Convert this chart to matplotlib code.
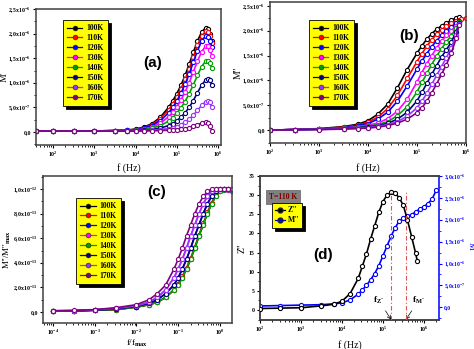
import numpy as np
import matplotlib
matplotlib.use('Agg')
import matplotlib.pyplot as plt
from matplotlib.lines import Line2D
from matplotlib.ticker import AutoMinorLocator

plt.rcParams['font.family'] = ['Liberation Serif', 'DejaVu Serif']
plt.rcParams['font.weight'] = 'bold'
plt.rcParams['mathtext.fontset'] = 'custom'
plt.rcParams['mathtext.rm'] = 'Liberation Serif:bold'
plt.rcParams['mathtext.bf'] = 'Liberation Serif:bold'
plt.rcParams['mathtext.it'] = 'Liberation Serif:italic:bold'
plt.rcParams['mathtext.default'] = 'bf'

# ---- data ----
temps = ['100K', '110K', '120K', '130K', '140K', '150K', '160K', '170K']
colors = ['black', 'red', 'blue', 'magenta', '#00A000', '#000080', '#9933FF', '#800080']

# (a) M' vs f, values in 1e-6
logf_a = [1.6, 2.0, 2.5, 3.0, 3.5, 3.8, 4.0, 4.2, 4.4, 4.6, 4.8, 4.9, 5.0, 5.1, 5.2, 5.3, 5.4, 5.5, 5.6, 5.7, 5.75, 5.8, 5.85]
mp_a = [
    [0.02, 0.02, 0.02, 0.02, 0.03, 0.04, 0.06, 0.10, 0.17, 0.30, 0.50, 0.63, 0.78, 0.95, 1.15, 1.38, 1.62, 1.85, 2.03, 2.12, 2.10, 2.00, 1.85],
    [0.02, 0.02, 0.02, 0.02, 0.03, 0.04, 0.05, 0.09, 0.15, 0.27, 0.45, 0.57, 0.71, 0.88, 1.07, 1.29, 1.53, 1.76, 1.95, 2.05, 2.03, 1.95, 1.80],
    [0.02, 0.02, 0.02, 0.02, 0.03, 0.035, 0.05, 0.08, 0.13, 0.23, 0.39, 0.50, 0.63, 0.79, 0.97, 1.18, 1.42, 1.65, 1.85, 1.95, 1.93, 1.85, 1.72],
    [0.02, 0.02, 0.02, 0.02, 0.025, 0.03, 0.04, 0.06, 0.10, 0.18, 0.31, 0.40, 0.51, 0.65, 0.81, 1.00, 1.22, 1.44, 1.63, 1.75, 1.74, 1.67, 1.55],
    [0.02, 0.02, 0.02, 0.02, 0.02, 0.03, 0.035, 0.05, 0.08, 0.13, 0.22, 0.29, 0.38, 0.49, 0.62, 0.78, 0.96, 1.15, 1.33, 1.44, 1.45, 1.40, 1.30],
    [0.02, 0.02, 0.02, 0.02, 0.02, 0.025, 0.03, 0.04, 0.05, 0.08, 0.13, 0.17, 0.23, 0.30, 0.39, 0.50, 0.64, 0.80, 0.95, 1.06, 1.08, 1.05, 0.95],
    [0.02, 0.02, 0.02, 0.02, 0.02, 0.02, 0.025, 0.03, 0.04, 0.05, 0.07, 0.09, 0.11, 0.15, 0.20, 0.26, 0.34, 0.44, 0.54, 0.62, 0.63, 0.60, 0.50],
    [0.02, 0.02, 0.02, 0.02, 0.02, 0.02, 0.02, 0.02, 0.025, 0.03, 0.035, 0.04, 0.05, 0.06, 0.07, 0.09, 0.12, 0.15, 0.18, 0.20, 0.18, 0.12, 0.03],
]

# (b) M'' vs f, values in 1e-6
logf_b = [2.0, 2.5, 3.0, 3.5, 3.8, 4.0, 4.2, 4.4, 4.6, 4.8, 5.0, 5.1, 5.2, 5.3, 5.4, 5.5, 5.6, 5.7, 5.8, 5.85, 5.9, 6.0]
nan = np.nan
mpp_b = [
    [0.0, 0.01, 0.03, 0.07, 0.12, 0.19, 0.32, 0.52, 0.85, 1.22, 1.55, 1.70, 1.83, 1.94, 2.03, 2.10, 2.16, 2.21, 2.26, 2.28, nan, nan],
    [0.0, 0.01, 0.025, 0.06, 0.10, 0.16, 0.26, 0.43, 0.70, 1.04, 1.38, 1.54, 1.69, 1.82, 1.93, 2.02, 2.09, 2.15, 2.20, 2.22, 2.24, 2.26],
    [0.0, 0.01, 0.02, 0.05, 0.09, 0.13, 0.22, 0.36, 0.58, 0.89, 1.23, 1.39, 1.54, 1.68, 1.80, 1.91, 2.00, 2.08, 2.15, 2.19, nan, nan],
    [0.0, 0.01, 0.02, 0.04, 0.07, 0.10, 0.14, 0.23, 0.38, 0.62, 0.97, 1.16, 1.34, 1.50, 1.65, 1.79, 1.91, 2.00, 2.10, 2.18, nan, nan],
    [0.0, 0.01, 0.015, 0.035, 0.06, 0.075, 0.11, 0.17, 0.29, 0.47, 0.77, 0.96, 1.14, 1.32, 1.49, 1.64, 1.78, 1.90, 2.05, 2.17, nan, nan],
    [0.0, 0.01, 0.015, 0.03, 0.05, 0.065, 0.09, 0.135, 0.22, 0.36, 0.59, 0.76, 0.94, 1.12, 1.30, 1.47, 1.62, 1.77, 1.98, 2.15, nan, nan],
    [0.0, 0.01, 0.012, 0.025, 0.04, 0.05, 0.075, 0.11, 0.17, 0.28, 0.45, 0.58, 0.74, 0.92, 1.10, 1.28, 1.46, 1.65, 1.92, 2.13, nan, nan],
    [0.0, 0.01, 0.01, 0.02, 0.03, 0.04, 0.06, 0.09, 0.14, 0.22, 0.35, 0.45, 0.58, 0.75, 0.93, 1.12, 1.32, 1.55, 1.85, 2.12, nan, nan],
]

# (c) M''/M''max vs f/fmax, values in 1e-12
logf_c = [-4.0, -3.5, -3.0, -2.5, -2.0, -1.7, -1.5, -1.3, -1.1, -1.0, -0.9, -0.8, -0.7, -0.6, -0.5, -0.4, -0.3, -0.2, -0.1, 0.0, 0.1, 0.2, 0.3]
mn_c = [
    [0.01, 0.01, 0.015, 0.02, 0.04, 0.06, 0.08, 0.12, 0.18, 0.22, 0.28, 0.35, 0.43, 0.52, 0.62, 0.71, 0.80, 0.88, 0.94, 0.98, 1.0, 1.0, 0.99],
    [0.01, 0.01, 0.015, 0.02, 0.04, 0.06, 0.08, 0.12, 0.18, 0.23, 0.29, 0.36, 0.44, 0.53, 0.63, 0.72, 0.81, 0.89, 0.95, 0.99, 1.0, 0.99, 0.98],
    [0.01, 0.01, 0.015, 0.025, 0.045, 0.07, 0.10, 0.15, 0.22, 0.28, 0.35, 0.43, 0.52, 0.62, 0.71, 0.80, 0.88, 0.94, 0.98, 1.0, 1.0, 0.99, 0.99],
    [0.01, 0.012, 0.018, 0.03, 0.05, 0.08, 0.12, 0.18, 0.28, 0.35, 0.43, 0.52, 0.62, 0.71, 0.80, 0.88, 0.94, 0.98, 1.0, 1.0, 1.0, 0.99, 0.99],
    [0.01, 0.01, 0.015, 0.02, 0.04, 0.06, 0.08, 0.12, 0.18, 0.22, 0.28, 0.35, 0.43, 0.52, 0.62, 0.71, 0.80, 0.88, 0.94, 0.98, 0.99, 1.0, 0.98],
    [0.01, 0.01, 0.015, 0.025, 0.045, 0.07, 0.10, 0.15, 0.22, 0.28, 0.35, 0.43, 0.52, 0.62, 0.71, 0.80, 0.88, 0.94, 0.98, 1.0, 1.0, 1.0, 0.99],
    [0.01, 0.012, 0.018, 0.03, 0.05, 0.08, 0.12, 0.18, 0.28, 0.35, 0.43, 0.52, 0.62, 0.71, 0.80, 0.88, 0.94, 0.98, 1.0, 1.0, 1.0, 1.0, 0.99],
    [0.01, 0.013, 0.02, 0.035, 0.06, 0.10, 0.15, 0.22, 0.35, 0.43, 0.52, 0.62, 0.71, 0.80, 0.88, 0.94, 0.98, 1.0, 1.0, 1.0, 1.0, 1.0, 1.0],
]

# (d) T = 110 K: Z'' (left axis) and M'' (right axis, 1e-6)
logf_z = [2.0, 2.5, 3.0, 3.5, 3.8, 4.0, 4.2, 4.4, 4.5, 4.6, 4.7, 4.8, 4.9, 5.0, 5.1, 5.2, 5.3, 5.4, 5.5, 5.6, 5.7, 5.8, 5.84]
z_dd = [0.4, 0.5, 0.6, 1.1, 1.5, 2.3, 4.3, 8.3, 11.5, 14.7, 18.5, 22.0, 25.5, 28.3, 30.0, 30.7, 30.5, 29.3, 27.3, 23.5, 19.2, 14.8, 12.8]
logf_m = [2.0, 2.5, 3.0, 3.5, 3.8, 4.0, 4.2, 4.4, 4.5, 4.6, 4.7, 4.8, 4.9, 5.0, 5.1, 5.2, 5.3, 5.4, 5.5, 5.6, 5.7, 5.8, 5.9, 6.0, 6.1, 6.2, 6.3]
m_dd = [0.03, 0.04, 0.05, 0.06, 0.08, 0.10, 0.17, 0.30, 0.40, 0.50, 0.63, 0.77, 0.95, 1.17, 1.40, 1.62, 1.82, 1.97, 2.04, 2.08, 2.12, 2.18, 2.25, 2.30, 2.37, 2.47, 2.67]
logf_m_peak = 5.56

fig = plt.figure(figsize=(4.74, 3.49), dpi=100)

tick_fs = 4.2
lab_fs = 7
MS = 3.0


def style(ax):
    for s in ax.spines.values():
        s.set_linewidth(1.1)
        s.set_color('#404040')
    ax.tick_params(which='major', direction='out', length=2.5, width=0.8, labelsize=tick_fs, pad=1.2)
    ax.tick_params(which='minor', direction='out', length=1.3, width=0.6)
    ax.tick_params(top=False, right=False, which='both')
    ax.yaxis.set_minor_locator(AutoMinorLocator(2))


def family(ax, logf, rows, scale):
    x = 10 ** np.array(logf)
    for lab, col, y in zip(temps, colors, rows):
        ax.plot(x, np.array(y, dtype=float) * scale, '-o', color=col, lw=1.2,
                mfc='white', mec=col, ms=MS, mew=0.8, label=lab)


def temp_legend(ax, anchor):
    handles = [Line2D([], [], color=c, marker='o', ms=3.5, mfc=c, mec='#222222', mew=0.4, lw=0.9)
               for c in colors]
    leg = ax.legend(handles, temps, loc='upper left', bbox_to_anchor=anchor, borderaxespad=0,
                    fontsize=5.5, labelspacing=0.25, handlelength=2.0, handletextpad=0.5,
                    borderpad=0.55, fancybox=False, facecolor='#FFFF00', edgecolor='black',
                    framealpha=1, shadow={'color': 'black', 'alpha': 1})
    leg.get_frame().set_linewidth(0.6)
    return leg


def sci_labels(vals, exps):
    out = []
    for v, e in zip(vals, exps):
        if v == 0:
            out.append('0,0')
        else:
            out.append(('%.1f' % v).replace('.', ',') + 'x10$^{%d}$' % e)
    return out


# ---- (a) ----
ax = fig.add_axes([36 / 474, 1 - 145 / 349, 185 / 474, 136 / 349])
family(ax, logf_a, mp_a, 1e-6)
ax.set_xscale('log')
ax.set_xlim(10 ** 1.59, 10 ** 6.07)
ax.set_ylim(-0.264e-6, 2.5e-6)
ax.set_xticks([1e2, 1e3, 1e4, 1e5, 1e6], ['10$^{2}$', '10$^{3}$', '10$^{4}$', '10$^{5}$', '10$^{6}$'])
yt = [0, 0.5, 1.0, 1.5, 2.0, 2.5]
ax.set_yticks(np.array(yt) * 1e-6, sci_labels([0, 5.0, 1.0, 1.5, 2.0, 2.5], [0, -7, -6, -6, -6, -6]))
ax.set_xlabel('f (Hz)', fontsize=lab_fs)
ax.set_ylabel("M'", fontsize=lab_fs)
ax.xaxis.set_label_coords(0.5, -0.132)
ax.yaxis.set_label_coords(-0.15, 0.5)
style(ax)
temp_legend(ax, (0.146, 0.919))
ax.text(0.63, 0.6, '(a)', transform=ax.transAxes, fontsize=11, fontweight='bold',
        family='Liberation Sans', ha='center', va='center')

# ---- (b) ----
ax = fig.add_axes([270 / 474, 1 - 143 / 349, 196 / 474, 141 / 349])
family(ax, logf_b, mpp_b, 1e-6)
ax.set_xscale('log')
ax.set_xlim(1e2, 1e6)
ax.set_ylim(-0.26e-6, 2.58e-6)
ax.set_xticks([1e2, 1e3, 1e4, 1e5, 1e6], ['10$^{2}$', '10$^{3}$', '10$^{4}$', '10$^{5}$', '10$^{6}$'])
ax.set_yticks(np.array(yt) * 1e-6, sci_labels([0, 5.0, 1.0, 1.5, 2.0, 2.5], [0, -7, -6, -6, -6, -6]))
ax.set_xlabel('f (Hz)', fontsize=lab_fs)
ax.set_ylabel("M''", fontsize=lab_fs)
ax.xaxis.set_label_coords(0.5, -0.142)
ax.yaxis.set_label_coords(-0.14, 0.5)
style(ax)
temp_legend(ax, (0.199, 0.872))
ax.text(0.71, 0.76, '(b)', transform=ax.transAxes, fontsize=11, fontweight='bold',
        family='Liberation Sans', ha='center', va='center')

# ---- (c) ----
ax = fig.add_axes([43 / 474, 1 - 323 / 349, 189 / 474, 147 / 349])
family(ax, logf_c, mn_c, 1e-12)
ax.set_xscale('log')
ax.set_xlim(10 ** -4.24, 10 ** 0.29)
ax.set_ylim(-0.089e-12, 1.106e-12)
ax.set_xticks([1e-4, 1e-3, 1e-2, 1e-1, 1e0], ['10$^{-4}$', '10$^{-3}$', '10$^{-2}$', '10$^{-1}$', '10$^{0}$'])
ax.set_yticks(np.array([0, 0.2, 0.4, 0.6, 0.8, 1.0]) * 1e-12,
              sci_labels([0, 2.0, 4.0, 6.0, 8.0, 1.0], [0, -13, -13, -13, -13, -12]))
ax.set_xlabel('f/f$_{max}$', fontsize=6.5)
ax.set_ylabel("M''/M''$_{max}$", fontsize=6.5)
ax.xaxis.set_label_coords(0.5, -0.098)
ax.yaxis.set_label_coords(-0.16, 0.5)
style(ax)
temp_legend(ax, (0.175, 0.85))
ax.text(0.6, 0.89, '(c)', transform=ax.transAxes, fontsize=11, fontweight='bold',
        family='Liberation Sans', ha='center', va='center')

# ---- (d) ----
ax = fig.add_axes([260 / 474, 1 - 320 / 349, 179 / 474, 144 / 349])
ax2 = ax.twinx()
fz = 10 ** np.array(logf_z)
fm = 10 ** np.array(logf_m)
ax.plot(fz, z_dd, '-o', color='black', lw=1.2, mfc='white', mec='black', ms=MS, mew=0.8, zorder=3)
ax2.plot(fm, np.array(m_dd) * 1e-6, '-o', color='blue', lw=1.2, mfc='white', mec='blue', ms=MS, mew=0.8)
ax.set_zorder(ax2.get_zorder() + 1)
ax.patch.set_visible(False)
ax.set_xscale('log')
ax.set_xlim(1e2, 10 ** 6.37)
ax.set_ylim(-2.6, 35)
ax2.set_ylim(-0.29e-6, 3.0e-6)
ax.set_xticks([1e2, 1e3, 1e4, 1e5, 1e6], ['10$^{2}$', '10$^{3}$', '10$^{4}$', '10$^{5}$', '10$^{6}$'])
ax.set_yticks([0, 5, 10, 15, 20, 25, 30, 35])
ax2.set_yticks(np.array([0, 0.5, 1.0, 1.5, 2.0, 2.5, 3.0]) * 1e-6,
               sci_labels([0, 5.0, 1.0, 1.5, 2.0, 2.5, 3.0], [0, -7, -6, -6, -6, -6, -6]))
ax.set_xlabel('f (Hz)', fontsize=lab_fs)
ax.set_ylabel("Z''", fontsize=lab_fs)
ax2.set_ylabel("M''", fontsize=6.5, color='blue', rotation=270, va='center')
ax.xaxis.set_label_coords(0.5, -0.139)
ax.yaxis.set_label_coords(-0.075, 0.5)
ax2.yaxis.set_label_coords(1.175, 0.5)
style(ax)
ax2.tick_params(which='major', direction='out', length=2.5, width=0.8, labelsize=4.0,
                colors='blue', pad=1.0)
ax2.tick_params(which='minor', direction='out', length=1.3, width=0.6, colors='blue')
ax2.yaxis.set_minor_locator(AutoMinorLocator(2))
for s in ax2.spines.values():
    s.set_linewidth(1.1)
    s.set_color('#404040')
ax2.spines['right'].set_color('blue')
ax.spines['right'].set_visible(False)

f_z_peak = fz[int(np.argmax(z_dd))]
f_m_peak = 10 ** logf_m_peak
zmax = max(z_dd)
ax.vlines([f_z_peak, f_m_peak], -2.6, zmax + 0.3, colors='#E05050', linestyles=(0, (4, 2, 1, 2)), lw=0.8, zorder=4)
ax.annotate("f$_{Z''}$", xy=(f_z_peak, -2.5), xytext=(10 ** 4.9, 2.6), fontsize=6.5, ha='center',
            va='center', arrowprops=dict(arrowstyle='->', lw=0.5, color='black', shrinkA=2, shrinkB=0))
ax.annotate("f$_{M''}$", xy=(f_m_peak, -2.5), xytext=(10 ** 5.88, 2.6), fontsize=6.5, ha='center',
            va='center', arrowprops=dict(arrowstyle='->', lw=0.5, color='black', shrinkA=2, shrinkB=0))

ax.text(0.05, 0.855, 'T=110 K', transform=ax.transAxes, fontsize=5.5, color='#800000',
        fontweight='bold', va='center', ha='left',
        bbox=dict(boxstyle='square,pad=0.35', facecolor='#808080', edgecolor='#606060', lw=0.5))
hd = [Line2D([], [], color='black', marker='o', ms=3.5, mfc='black', mec='#222222', lw=0.9),
      Line2D([], [], color='blue', marker='o', ms=3.5, mfc='blue', mec='#222222', lw=0.9)]
leg = ax.legend(hd, ["Z''", "M''"], loc='upper left', bbox_to_anchor=(0.067, 0.8125), borderaxespad=0,
                fontsize=5.5, labelspacing=0.25, handlelength=1.2, handletextpad=0.4,
                borderpad=0.45, fancybox=False, facecolor='#FFFF00', edgecolor='black',
                framealpha=1, shadow={'color': 'black', 'alpha': 1})
leg.get_frame().set_linewidth(0.6)
ax.text(0.35, 0.45, '(d)', transform=ax.transAxes, fontsize=11, fontweight='bold',
        family='Liberation Sans', ha='center', va='center')

fig.savefig('out.png', dpi=100)
